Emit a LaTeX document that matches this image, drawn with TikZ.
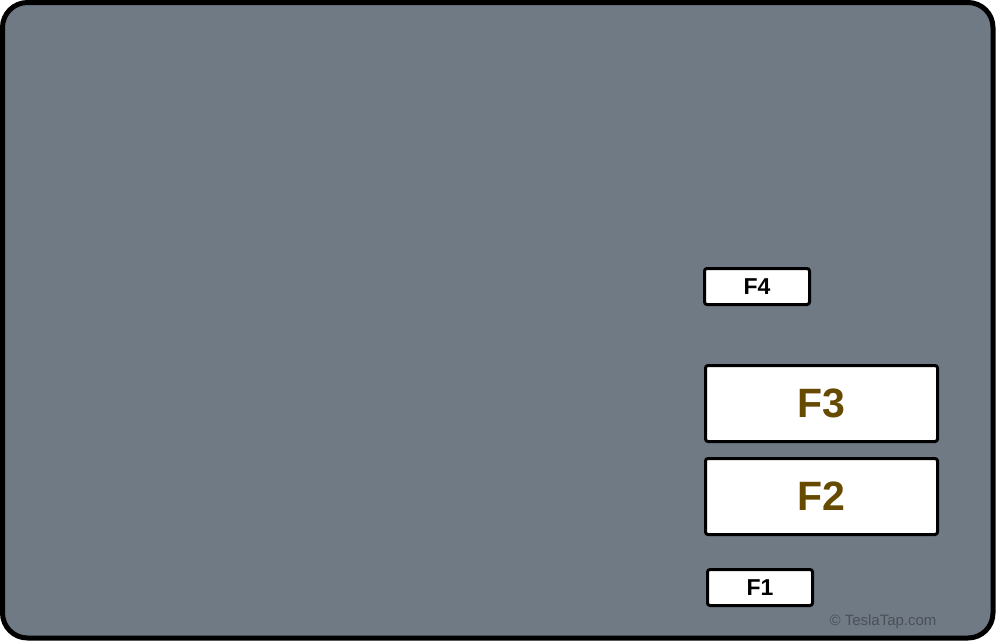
\documentclass[tikz,border=0pt]{standalone}
\usepackage{fontspec}
\setmainfont{Liberation Sans}
\definecolor{panel}{RGB}{112,122,133}
\definecolor{fusebrown}{RGB}{102,74,0}
\definecolor{credit}{RGB}{74,80,88}
\begin{document}
\begin{tikzpicture}[x=1pt,y=-1pt,
  smallfuse/.style={draw=black,fill=white,line width=3,rounded corners=2.5,inner sep=0,font=\fontsize{23}{23}\selectfont\bfseries},
  bigfuse/.style={draw=black,fill=white,line width=3,rounded corners=2.5,inner sep=0,text=fusebrown,font=\fontsize{41}{41}\selectfont\bfseries}]
\useasboundingbox (0,0) rectangle (996,643);
\draw[line width=5,fill=panel,rounded corners=25] (2.5,2.5) rectangle (993,638);
\node[smallfuse,minimum width=105,minimum height=36] (f4) at (757,286.5) {F4};
\node[bigfuse,minimum width=232,minimum height=76] (f3) at (821.5,403.5) {F3};
\node[bigfuse,minimum width=232,minimum height=76] (f2) at (821.5,496.5) {F2};
\node[smallfuse,minimum width=105,minimum height=36] (f1) at (760,587.5) {F1};
\node[text=credit,font=\fontsize{15}{15}\selectfont,inner sep=0] (cr) at (883,622) {© TeslaTap.com};
\end{tikzpicture}
\end{document}
